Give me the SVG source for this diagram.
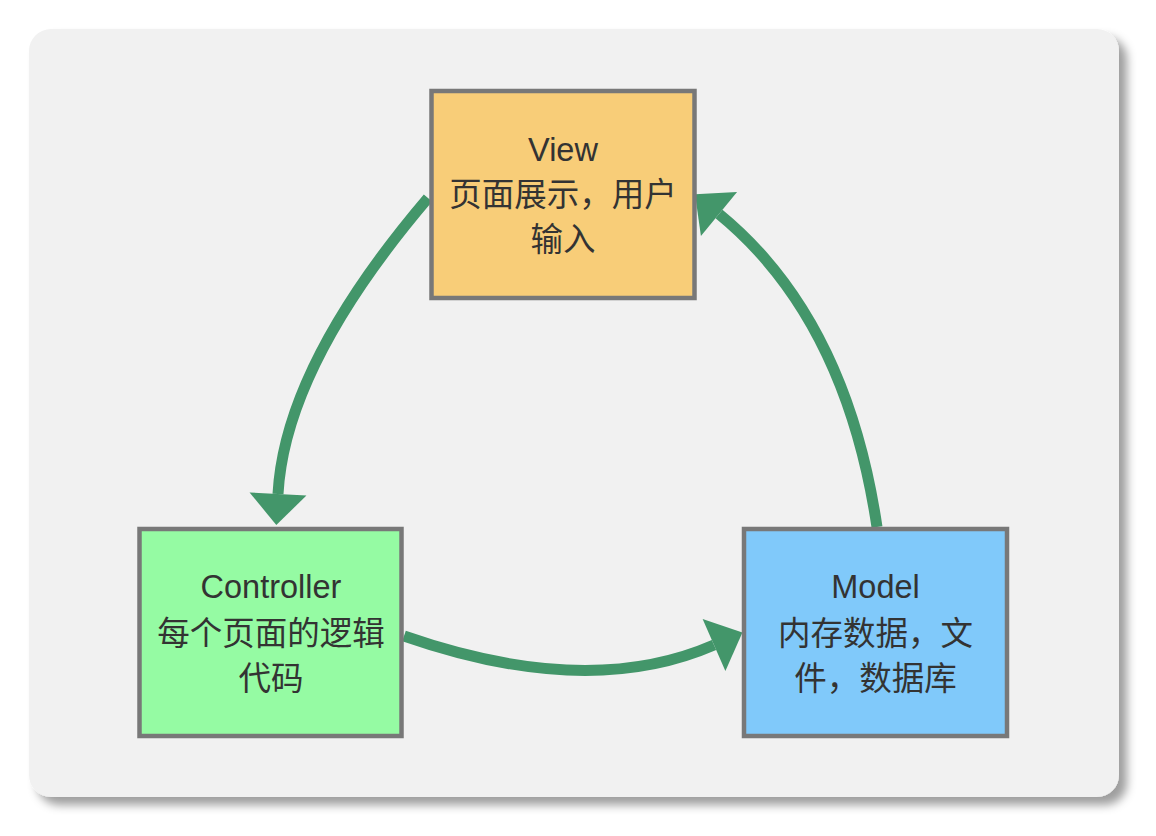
<svg xmlns="http://www.w3.org/2000/svg" width="1156" height="836" viewBox="0 0 1156 836">
<style>
.node{stroke:#787878;stroke-width:4.5}
.lbl{font-family:"Liberation Sans","Noto Sans CJK SC",sans-serif;font-size:32.5px;fill:#333333;text-anchor:middle}
.edge{fill:none;stroke:#43966a;stroke-width:11}
</style>
<defs>
<filter id="shadow" x="-5%" y="-5%" width="115%" height="115%">
<feDropShadow dx="8" dy="8" stdDeviation="5" flood-color="#000" flood-opacity="0.38"/>
</filter>
<marker id="head" markerUnits="userSpaceOnUse" markerWidth="40" markerHeight="70" refX="0" refY="0" orient="auto" overflow="visible">
<path d="M0,-28.5 L31,0 L0,28.5 Z" fill="#43966a"/>
</marker>
</defs>
<rect width="1156" height="836" fill="#ffffff"/>
<rect x="29" y="29" width="1090" height="768" rx="22" ry="22" fill="#f1f1f1" filter="url(#shadow)"/>
<g id="connectors">
<path class="edge" d="M428,198 Q285,366 278,494" marker-end="url(#head)"/>
<path class="edge" d="M404,636 Q588,700 714,645" marker-end="url(#head)"/>
<path class="edge" d="M877,527 Q846,318 719,214" marker-end="url(#head)"/>
</g>
<g id="view">
<rect class="node" x="431.5" y="91" width="263" height="207" fill="#f8cd78"/>
<text class="lbl" x="563" y="161">View</text>
<text class="lbl" x="563" y="206">页面展示，用户</text>
<text class="lbl" x="563" y="251">输入</text>
</g>
<g id="controller">
<rect class="node" x="139.5" y="529" width="262" height="207" fill="#95fba3"/>
<text class="lbl" x="271" y="598">Controller</text>
<text class="lbl" x="271" y="645">每个页面的逻辑</text>
<text class="lbl" x="271" y="690">代码</text>
</g>
<g id="model">
<rect class="node" x="744" y="529" width="263" height="207" fill="#80c9fa"/>
<text class="lbl" x="875.5" y="598">Model</text>
<text class="lbl" x="875.5" y="645">内存数据，文</text>
<text class="lbl" x="875.5" y="690">件，数据库</text>
</g>
</svg>
